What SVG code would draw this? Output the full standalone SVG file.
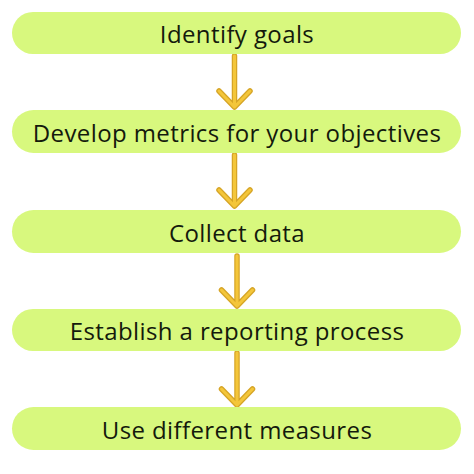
<svg xmlns="http://www.w3.org/2000/svg" width="474" height="474" viewBox="0 0 474 474">
<style>
.box{fill:#D8F87E}
.lbl{font-family:"Open Sans","Noto Sans",sans-serif;font-size:24px;letter-spacing:0.4px;fill:#141a0c;text-anchor:middle}
.edge{fill:none;stroke:#D6A526;stroke-width:5.5;stroke-linecap:round;stroke-linejoin:round}
.edgein{fill:none;stroke:#F4C63A;stroke-width:3;stroke-linecap:round;stroke-linejoin:round}
</style>
<rect width="474" height="474" fill="#ffffff"/>
<g id="connectors">
<g id="a1"><path class="edge" d="M234.5 56 V107 M219 91 L234.5 107 L250 91"/><path class="edgein" d="M234.5 56 V107 M219 91 L234.5 107 L250 91"/></g>
<g id="a2"><path class="edge" d="M234.5 155 V206 M219 190 L234.5 206 L250 190"/><path class="edgein" d="M234.5 155 V206 M219 190 L234.5 206 L250 190"/></g>
<g id="a3"><path class="edge" d="M237 256 V306 M221.5 290 L237 306 L252.5 290"/><path class="edgein" d="M237 256 V306 M221.5 290 L237 306 L252.5 290"/></g>
<g id="a4"><path class="edge" d="M237 353 V405 M221.5 389 L237 405 L252.5 389"/><path class="edgein" d="M237 353 V405 M221.5 389 L237 405 L252.5 389"/></g>
</g>
<g id="n1"><rect class="box" x="12" y="12" width="449" height="42" rx="21"/><text class="lbl" x="237" y="42.5">Identify goals</text></g>
<g id="n2"><rect class="box" x="12" y="110" width="449" height="43" rx="21.5"/><text class="lbl" x="237" y="141.5">Develop metrics for your objectives</text></g>
<g id="n3"><rect class="box" x="12" y="210" width="449" height="43" rx="21.5"/><text class="lbl" x="237" y="241.5">Collect data</text></g>
<g id="n4"><rect class="box" x="12" y="309" width="449" height="42" rx="21"/><text class="lbl" x="237" y="340">Establish a reporting process</text></g>
<g id="n5"><rect class="box" x="12" y="407" width="449" height="43" rx="21.5"/><text class="lbl" x="237" y="438.5">Use different measures</text></g>
</svg>
